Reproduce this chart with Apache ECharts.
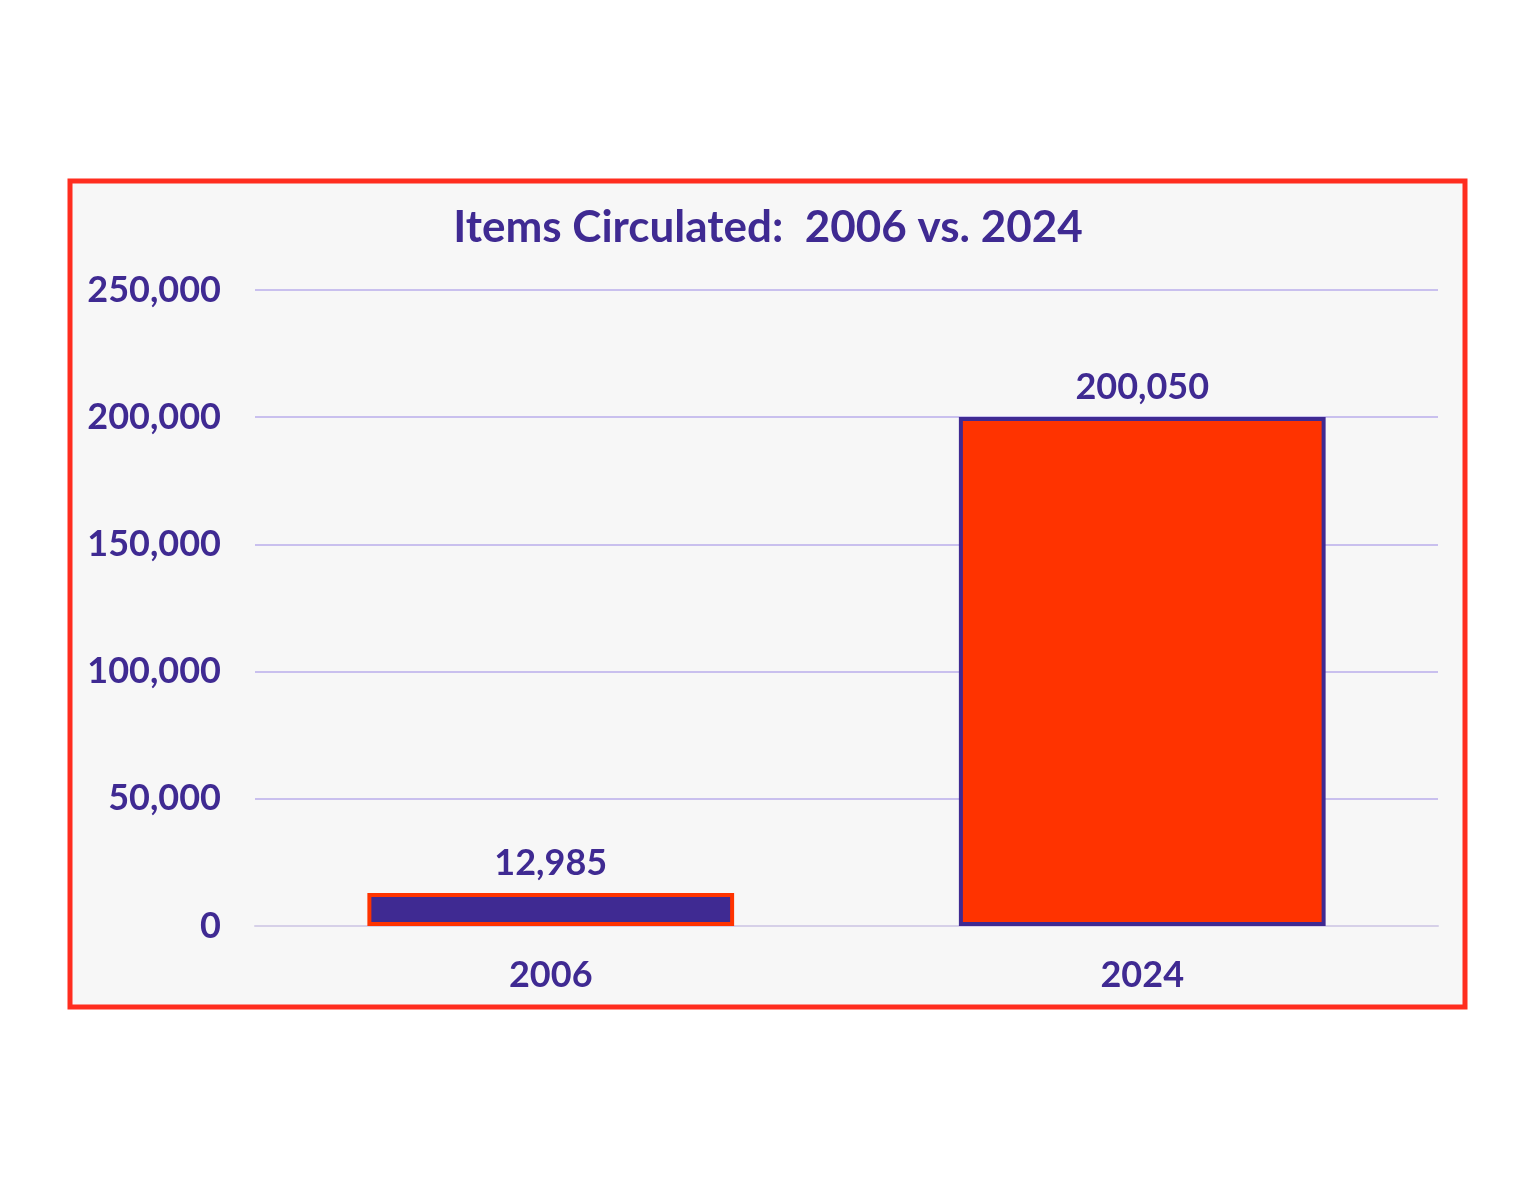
<!DOCTYPE html>
<html>
<head>
<meta charset="utf-8">
<script src="https://cdn.jsdelivr.net/npm/echarts@6/dist/echarts.min.js"></script>
<style>
  html, body { margin: 0; padding: 0; background: #ffffff; }
  #chart { width: 1536px; height: 1187px; }
</style>
</head>
<body>
<div id="chart"></div>
<script>
var years = ["2006", "2024"];
var itemsCirculated = [12985, 200050];
var fillColors = ["#3f2a92", "#ff3300"];
var borderColors = ["#ff3300", "#3f2a92"];

var purple = "#3f2a92";
var chart = echarts.init(document.getElementById("chart"));

chart.setOption({
  backgroundColor: "#ffffff",
  textStyle: { fontFamily: "Lato" },
  graphic: [
    {
      type: "rect",
      z: -10,
      shape: { x: 70, y: 181, width: 1395, height: 826 },
      style: { fill: "#f7f7f7", stroke: "#ff2d1f", lineWidth: 5 }
    }
  ],
  title: {
    text: "Items Circulated:  2006 vs. 2024",
    left: "center",
    top: 201,
    textStyle: { color: purple, fontSize: 44, fontWeight: "bold", fontFamily: "Lato" }
  },
  grid: { left: 255, right: 98, top: 290, bottom: 261 },
  xAxis: {
    type: "category",
    data: years,
    axisLine: { show: true, lineStyle: { color: "#d6d0e8", width: 2 } },
    axisTick: { show: false },
    axisLabel: { color: purple, fontSize: 36, fontWeight: "bold", margin: 31, fontFamily: "Lato" }
  },
  yAxis: {
    type: "value",
    min: 0,
    max: 250000,
    interval: 50000,
    axisLine: { show: false },
    axisTick: { show: false },
    splitLine: { lineStyle: { color: "#c9c0ee", width: 2 } },
    axisLabel: {
      color: purple,
      fontSize: 36,
      fontWeight: "bold",
      margin: 34,
      fontFamily: "Lato",
      formatter: function (v) { return v.toLocaleString("en-US"); }
    }
  },
  series: [
    {
      type: "bar",
      barWidth: "62%",
      data: itemsCirculated.map(function (v, i) {
        return {
          value: v,
          itemStyle: { color: fillColors[i], borderColor: borderColors[i], borderWidth: 4 }
        };
      }),
      label: {
        show: true,
        position: "top",
        distance: 12,
        color: purple,
        fontSize: 36,
        fontWeight: "bold",
        fontFamily: "Lato",
        formatter: function (p) { return p.value.toLocaleString("en-US"); }
      }
    }
  ]
});
</script>
</body>
</html>
